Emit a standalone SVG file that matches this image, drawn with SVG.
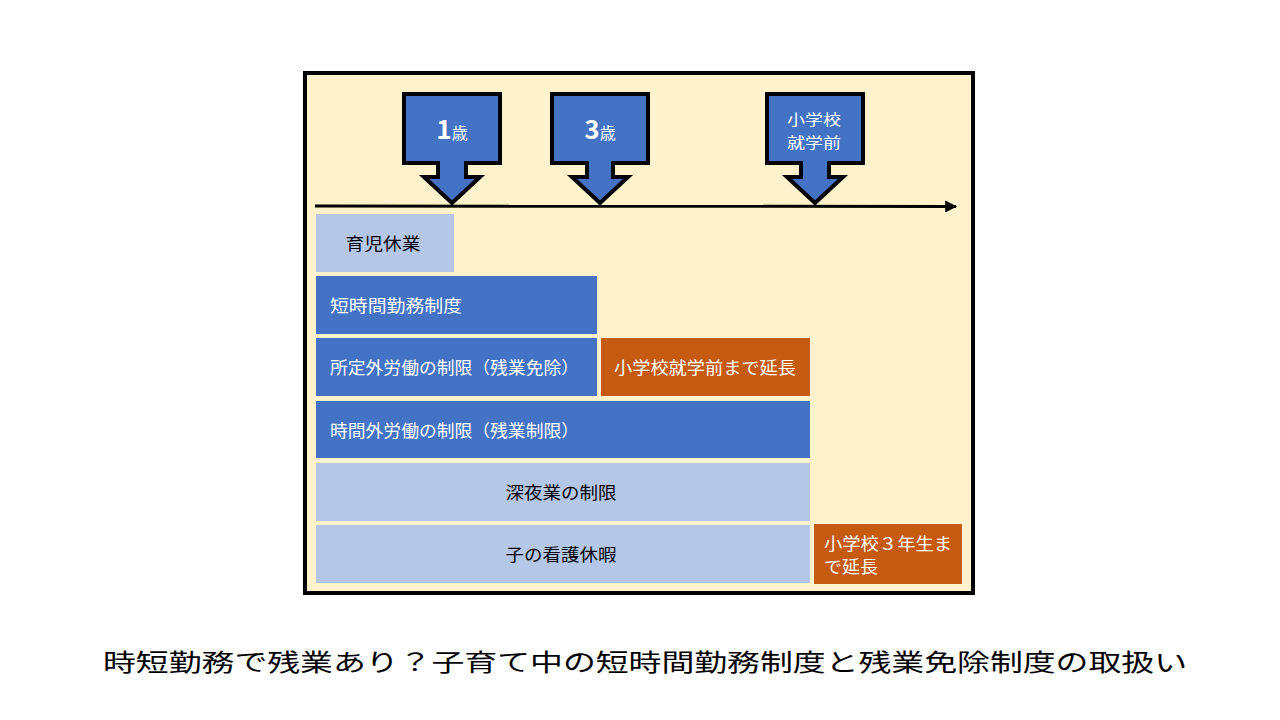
<svg xmlns="http://www.w3.org/2000/svg" width="1280" height="720" viewBox="0 0 1280 720">
<style>
text{font-family:"Noto Sans CJK JP","Noto Sans",sans-serif}
.callout{fill:#4472C4;stroke:#000;stroke-width:4;stroke-linejoin:miter}
.dark{fill:#4472C4}
.light{fill:#B4C7E7}
.orange{fill:#C55A11}
.w{fill:#fff;font-size:17px}
.b{fill:#000;font-size:17px}
</style>
<defs>
<marker id="ah" viewBox="0 0 10 10" refX="9" refY="5" markerWidth="4" markerHeight="4" orient="auto" markerUnits="strokeWidth">
<path d="M0,0 L10,5 L0,10 Z" fill="#000"/>
</marker>
</defs>
<rect width="1280" height="720" fill="#fff"/>
<rect id="frame" x="305" y="73" width="668" height="520" fill="#FFF2CC" stroke="#000" stroke-width="4"/>

<g id="connectors">
<line x1="315" y1="206" x2="956" y2="206.5" stroke="#000" stroke-width="3" marker-end="url(#ah)"/>
</g>

<g id="callout-1">
<path class="callout" d="M404,94 H500 V163 H466 V177 H480 L452,203 L424,177 H438 V163 H404 Z"/>
<text x="452" y="139" text-anchor="middle" fill="#fff" font-weight="bold"><tspan font-size="26">1</tspan><tspan font-size="16" font-weight="normal">歳</tspan></text>
</g>
<g id="callout-3">
<path class="callout" d="M552,94 H648 V163 H613 V177 H628 L600,203 L572,177 H587 V163 H552 Z"/>
<text x="600" y="139" text-anchor="middle" fill="#fff" font-weight="bold"><tspan font-size="26">3</tspan><tspan font-size="16" font-weight="normal">歳</tspan></text>
</g>
<g id="callout-school">
<path class="callout" d="M767,94 H863 V163 H829 V177 H843 L815,203 L787,177 H801 V163 H767 Z"/>
<text transform="translate(814,0) scale(1.2,1)" text-anchor="middle" fill="#fff" font-size="15"><tspan x="0" y="125">小学校</tspan><tspan x="0" y="148">就学前</tspan></text>
</g>

<g id="bar-ikuji">
<rect class="light" x="316" y="214" width="138" height="58"/>
<text class="b" x="383" y="250" text-anchor="middle" textLength="75" lengthAdjust="spacingAndGlyphs">育児休業</text>
</g>
<g id="bar-tanjikan">
<rect class="dark" x="316" y="276" width="281" height="58"/>
<text class="w" x="330" y="312" textLength="132" lengthAdjust="spacingAndGlyphs">短時間勤務制度</text>
</g>
<g id="bar-shoteigai">
<rect class="dark" x="316" y="338" width="281" height="58"/>
<text class="w" x="330" y="374" textLength="249" lengthAdjust="spacingAndGlyphs">所定外労働の制限（残業免除）</text>
</g>
<g id="bar-encho1">
<rect class="orange" x="601" y="338" width="209" height="58"/>
<text class="w" x="705" y="374" text-anchor="middle" textLength="182" lengthAdjust="spacingAndGlyphs">小学校就学前まで延長</text>
</g>
<g id="bar-jikangai">
<rect class="dark" x="316" y="401" width="494" height="57"/>
<text class="w" x="330" y="437" textLength="249" lengthAdjust="spacingAndGlyphs">時間外労働の制限（残業制限）</text>
</g>
<g id="bar-shinya">
<rect class="light" x="316" y="463" width="494" height="58"/>
<text class="b" x="561" y="499" text-anchor="middle" textLength="111" lengthAdjust="spacingAndGlyphs">深夜業の制限</text>
</g>
<g id="bar-kango">
<rect class="light" x="316" y="525" width="494" height="58"/>
<text class="b" x="561" y="561" text-anchor="middle" textLength="111" lengthAdjust="spacingAndGlyphs">子の看護休暇</text>
</g>
<g id="bar-encho2">
<rect class="orange" x="814" y="524" width="148" height="60"/>
<text class="w" x="824" y="550" textLength="128" lengthAdjust="spacingAndGlyphs">小学校３年生ま</text>
<text class="w" x="824" y="573" textLength="54" lengthAdjust="spacingAndGlyphs">で延長</text>
</g>

<g id="title">
<text x="103" y="671" font-size="24" fill="#000" textLength="1084" lengthAdjust="spacingAndGlyphs">時短勤務で残業あり？子育て中の短時間勤務制度と残業免除制度の取扱い</text>
</g>
</svg>
